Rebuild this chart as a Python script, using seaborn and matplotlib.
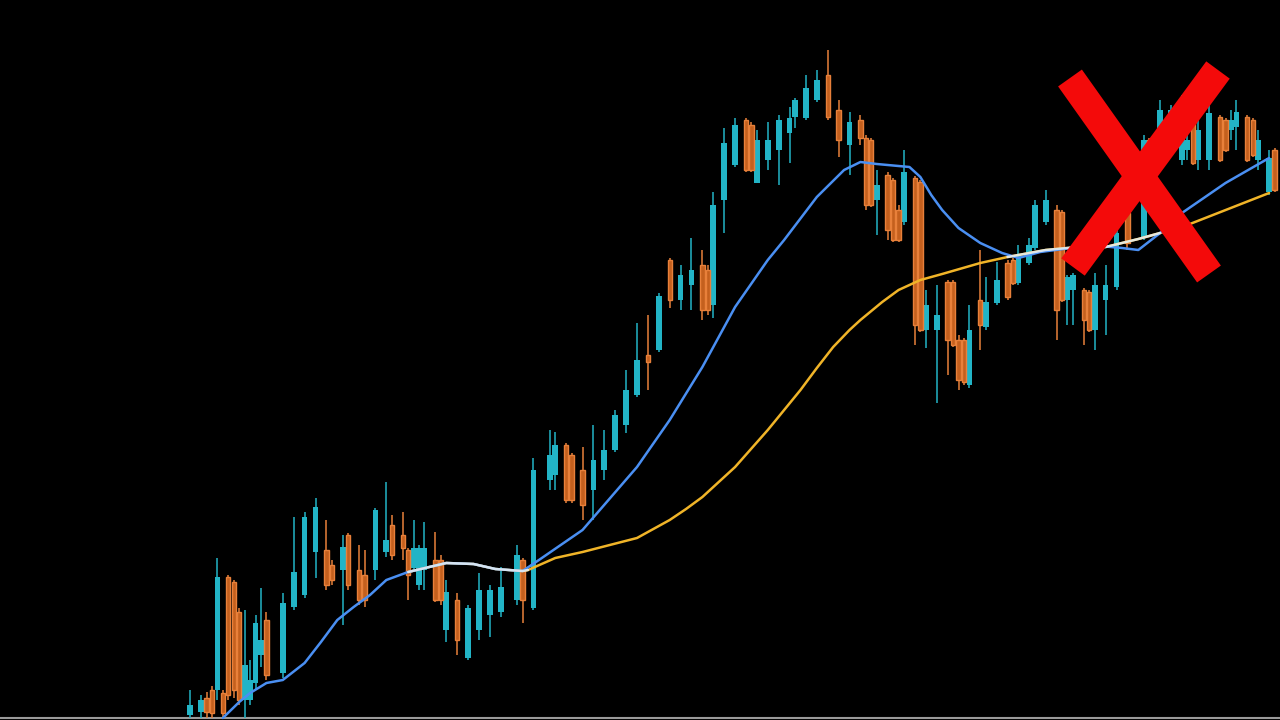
import matplotlib
matplotlib.use("Agg")
import matplotlib.pyplot as plt
import seaborn as sns
import pandas as pd
import numpy as np
from matplotlib.lines import Line2D

# ---------------- data (bar index, prices) ----------------
bar = [0, 2, 3, 4, 5, 6, 7, 8, 9, 10, 11, 12, 13, 14, 17, 19, 21, 23, 25, 26,
       28, 29, 31, 32, 34, 36, 37, 39, 40, 41, 42, 43, 45, 46, 47, 49, 51, 53, 55, 57,
       60, 61, 63, 66, 67, 69, 70, 72, 74, 76, 78, 80, 82, 84, 86, 88, 90, 92, 94, 95,
       96, 98, 100, 102, 103, 104, 106, 108, 110, 111, 113, 115, 117, 119, 121, 123, 124, 125, 126, 128,
       129, 130, 131, 133, 134, 135, 137, 139, 140, 141, 142, 143, 145, 146, 148, 150, 151, 152, 154, 155,
       157, 159, 160, 161, 162, 164, 165, 166, 168, 170, 172, 175, 176, 178, 180, 182, 183, 184, 185, 187,
       189, 190, 191, 192, 194, 195, 196, 198, 199]
open_ = [5, 8, 22, 30, 30, 27, 143, 138, 108, 20, 20, 37, 65, 100, 47, 113, 125, 168, 170, 155,
         150, 185, 150, 145, 150, 168, 195, 185, 170, 152, 135, 150, 160, 160, 90, 120, 62, 90, 105, 108,
         120, 160, 112, 240, 245, 275, 265, 250, 230, 250, 270, 295, 325, 365, 370, 460, 420, 435, 455, 450,
         415, 520, 555, 600, 595, 537, 560, 570, 587, 603, 602, 620, 645, 610, 575, 600, 582, 580, 520, 545,
         540, 510, 498, 542, 538, 390, 390, 438, 438, 380, 380, 335, 420, 393, 417, 457, 460, 437, 457, 472,
         498, 510, 508, 420, 430, 430, 428, 390, 420, 433, 507, 482, 580, 583, 595, 560, 570, 603, 560, 560,
         603, 600, 590, 593, 603, 600, 560, 528, 570]
high = [30, 25, 28, 34, 162, 30, 145, 140, 112, 110, 60, 105, 132, 108, 127, 203, 208, 222, 200, 160,
        185, 187, 175, 170, 212, 238, 205, 208, 172, 200, 175, 198, 188, 165, 140, 127, 115, 147, 135, 153,
        175, 162, 262, 290, 288, 277, 267, 273, 295, 290, 310, 350, 397, 405, 427, 462, 455, 482, 470, 455,
        528, 592, 602, 602, 598, 590, 598, 605, 613, 622, 645, 650, 670, 620, 608, 605, 585, 582, 550, 548,
        542, 515, 570, 544, 540, 430, 435, 440, 440, 385, 382, 415, 470, 443, 458, 460, 462, 475, 482, 520,
        530, 515, 510, 445, 447, 432, 430, 447, 455, 490, 510, 585, 582, 620, 615, 625, 585, 605, 600, 620,
        605, 602, 610, 620, 605, 602, 590, 570, 572]
low = [2, 2, 2, 2, 20, 2, 20, 22, 15, 2, 15, 30, 53, 40, 42, 110, 122, 142, 130, 135,
       95, 130, 115, 113, 140, 163, 160, 160, 120, 150, 130, 130, 118, 115, 78, 65, 60, 80, 83, 103,
       115, 97, 110, 230, 230, 217, 217, 200, 200, 240, 268, 287, 323, 330, 368, 412, 410, 410, 400, 405,
       402, 487, 553, 548, 548, 537, 550, 535, 557, 592, 600, 618, 600, 563, 545, 575, 510, 513, 485, 480,
       478, 478, 495, 375, 388, 372, 317, 345, 373, 330, 335, 332, 370, 390, 415, 420, 435, 435, 455, 470,
       495, 380, 418, 395, 395, 375, 388, 370, 385, 430, 470, 480, 555, 570, 580, 555, 560, 555, 550, 550,
       558, 568, 580, 570, 558, 563, 550, 525, 528]
close = [15, 20, 8, 7, 143, 7, 25, 30, 20, 55, 40, 97, 80, 45, 117, 148, 203, 213, 135, 140,
         173, 135, 120, 120, 210, 180, 165, 172, 145, 172, 172, 172, 120, 120, 128, 80, 112, 130, 130, 133,
         165, 120, 250, 265, 275, 220, 220, 215, 260, 270, 305, 330, 360, 358, 424, 420, 445, 450, 410, 410,
         515, 577, 595, 550, 550, 580, 580, 600, 602, 620, 632, 640, 603, 580, 598, 582, 515, 515, 535, 490,
         480, 480, 548, 395, 390, 415, 405, 380, 375, 340, 338, 390, 395, 418, 440, 423, 437, 465, 475, 515,
         520, 410, 420, 443, 445, 400, 390, 435, 435, 487, 477, 580, 560, 610, 610, 583, 580, 557, 590, 607,
         560, 570, 600, 608, 560, 565, 580, 562, 530]

# fast moving average (blue) and slow moving average (gold)
fast_bar = [6, 9, 11, 14, 17, 21, 24, 27, 30, 33, 36, 40, 47, 52, 56, 61, 64, 72, 82, 88,
            94, 100, 106, 109, 115, 120, 123, 126, 132, 134, 136, 138, 141, 145, 149, 152, 156, 163, 167, 171,
            174, 178, 182, 190, 198]
fast_ma = [2, 18, 27, 37, 40, 57, 78, 100, 113, 125, 140, 148, 157, 156, 151, 149, 160, 190, 253, 300,
           353, 413, 460, 480, 523, 550, 558, 556, 553, 543, 525, 510, 492, 477, 467, 462, 468, 473, 474, 472,
           470, 487, 507, 537, 562]
slow_bar = [40, 47, 52, 56, 61, 62, 67, 72, 77, 82, 88, 91, 94, 100, 106, 112, 115, 118, 121, 123,
            127, 130, 134, 138, 145, 150, 157, 163, 168, 174, 178, 183, 198]
slow_ma = [148, 157, 156, 151, 149, 150, 162, 168, 175, 182, 200, 211, 223, 253, 290, 330, 352, 373, 390, 400,
           418, 430, 440, 446, 457, 463, 470, 473, 473, 481, 487, 495, 527]
overlap_ranges = [(40, 62), (150, 178)]

# ---------------- style ----------------
sns.set_theme(style="dark", rc={"axes.facecolor": "#000000", "figure.facecolor": "#000000"})
UP = "#22b4c6"
DOWN = "#e8803a"
DOWN_FILL = "#c4601e"
FAST = "#4a8ff2"
SLOW = "#f0b428"

fig = plt.figure(figsize=(12.8, 7.2), dpi=100)
ax = fig.add_axes([0, 0, 1, 1])
ax.set_facecolor("#000000")

df = pd.DataFrame({"bar": bar, "open": open_, "high": high, "low": low, "close": close})
df["up"] = df["close"] >= df["open"]
df["color"] = np.where(df["up"], UP, DOWN)
df["body_low"] = df[["open", "close"]].min(axis=1)
df["body_h"] = (df["close"] - df["open"]).abs().clip(lower=2)

ax.vlines(df["bar"], df["low"], df["high"], colors=df["color"], linewidth=1.1, zorder=2)
up = df[df["up"]]
dn = df[~df["up"]]
ax.bar(up["bar"], up["body_h"], bottom=up["body_low"], width=1.05, color=UP, linewidth=0, zorder=3)
ax.bar(dn["bar"], dn["body_h"], bottom=dn["body_low"], width=0.8, color=DOWN_FILL,
       edgecolor=DOWN, linewidth=1.0, zorder=3)

fast_df = pd.DataFrame({"bar": fast_bar, "ma": fast_ma})
slow_df = pd.DataFrame({"bar": slow_bar, "ma": slow_ma})
sns.lineplot(data=slow_df, x="bar", y="ma", color=SLOW, linewidth=1.8, ax=ax, zorder=4)
sns.lineplot(data=fast_df, x="bar", y="ma", color=FAST, linewidth=1.8, ax=ax, zorder=5)
for lo, hi in overlap_ranges:
    seg = slow_df[(slow_df["bar"] >= lo) & (slow_df["bar"] <= hi)]
    ax.plot(seg["bar"], seg["ma"], color="#e6eef2", linewidth=1.8, zorder=6, alpha=0.9)

ax.axhline(2, color="#9a9a9a", linewidth=1.5, zorder=1)

ax.set_xlim(-34.9, 200.0)
ax.set_ylim(0, 720)
ax.set_axis_off()

# red cross overlay
fig.add_artist(Line2D([1070 / 1280, 1209 / 1280], [1 - 78 / 720, 1 - 274 / 720],
                      transform=fig.transFigure, color="#f40a0a", linewidth=21,
                      solid_capstyle="butt", zorder=10))
fig.add_artist(Line2D([1218 / 1280, 1073 / 1280], [1 - 70 / 720, 1 - 267 / 720],
                      transform=fig.transFigure, color="#f40a0a", linewidth=21,
                      solid_capstyle="butt", zorder=10))

fig.savefig("out.png", dpi=100, facecolor="#000000")
